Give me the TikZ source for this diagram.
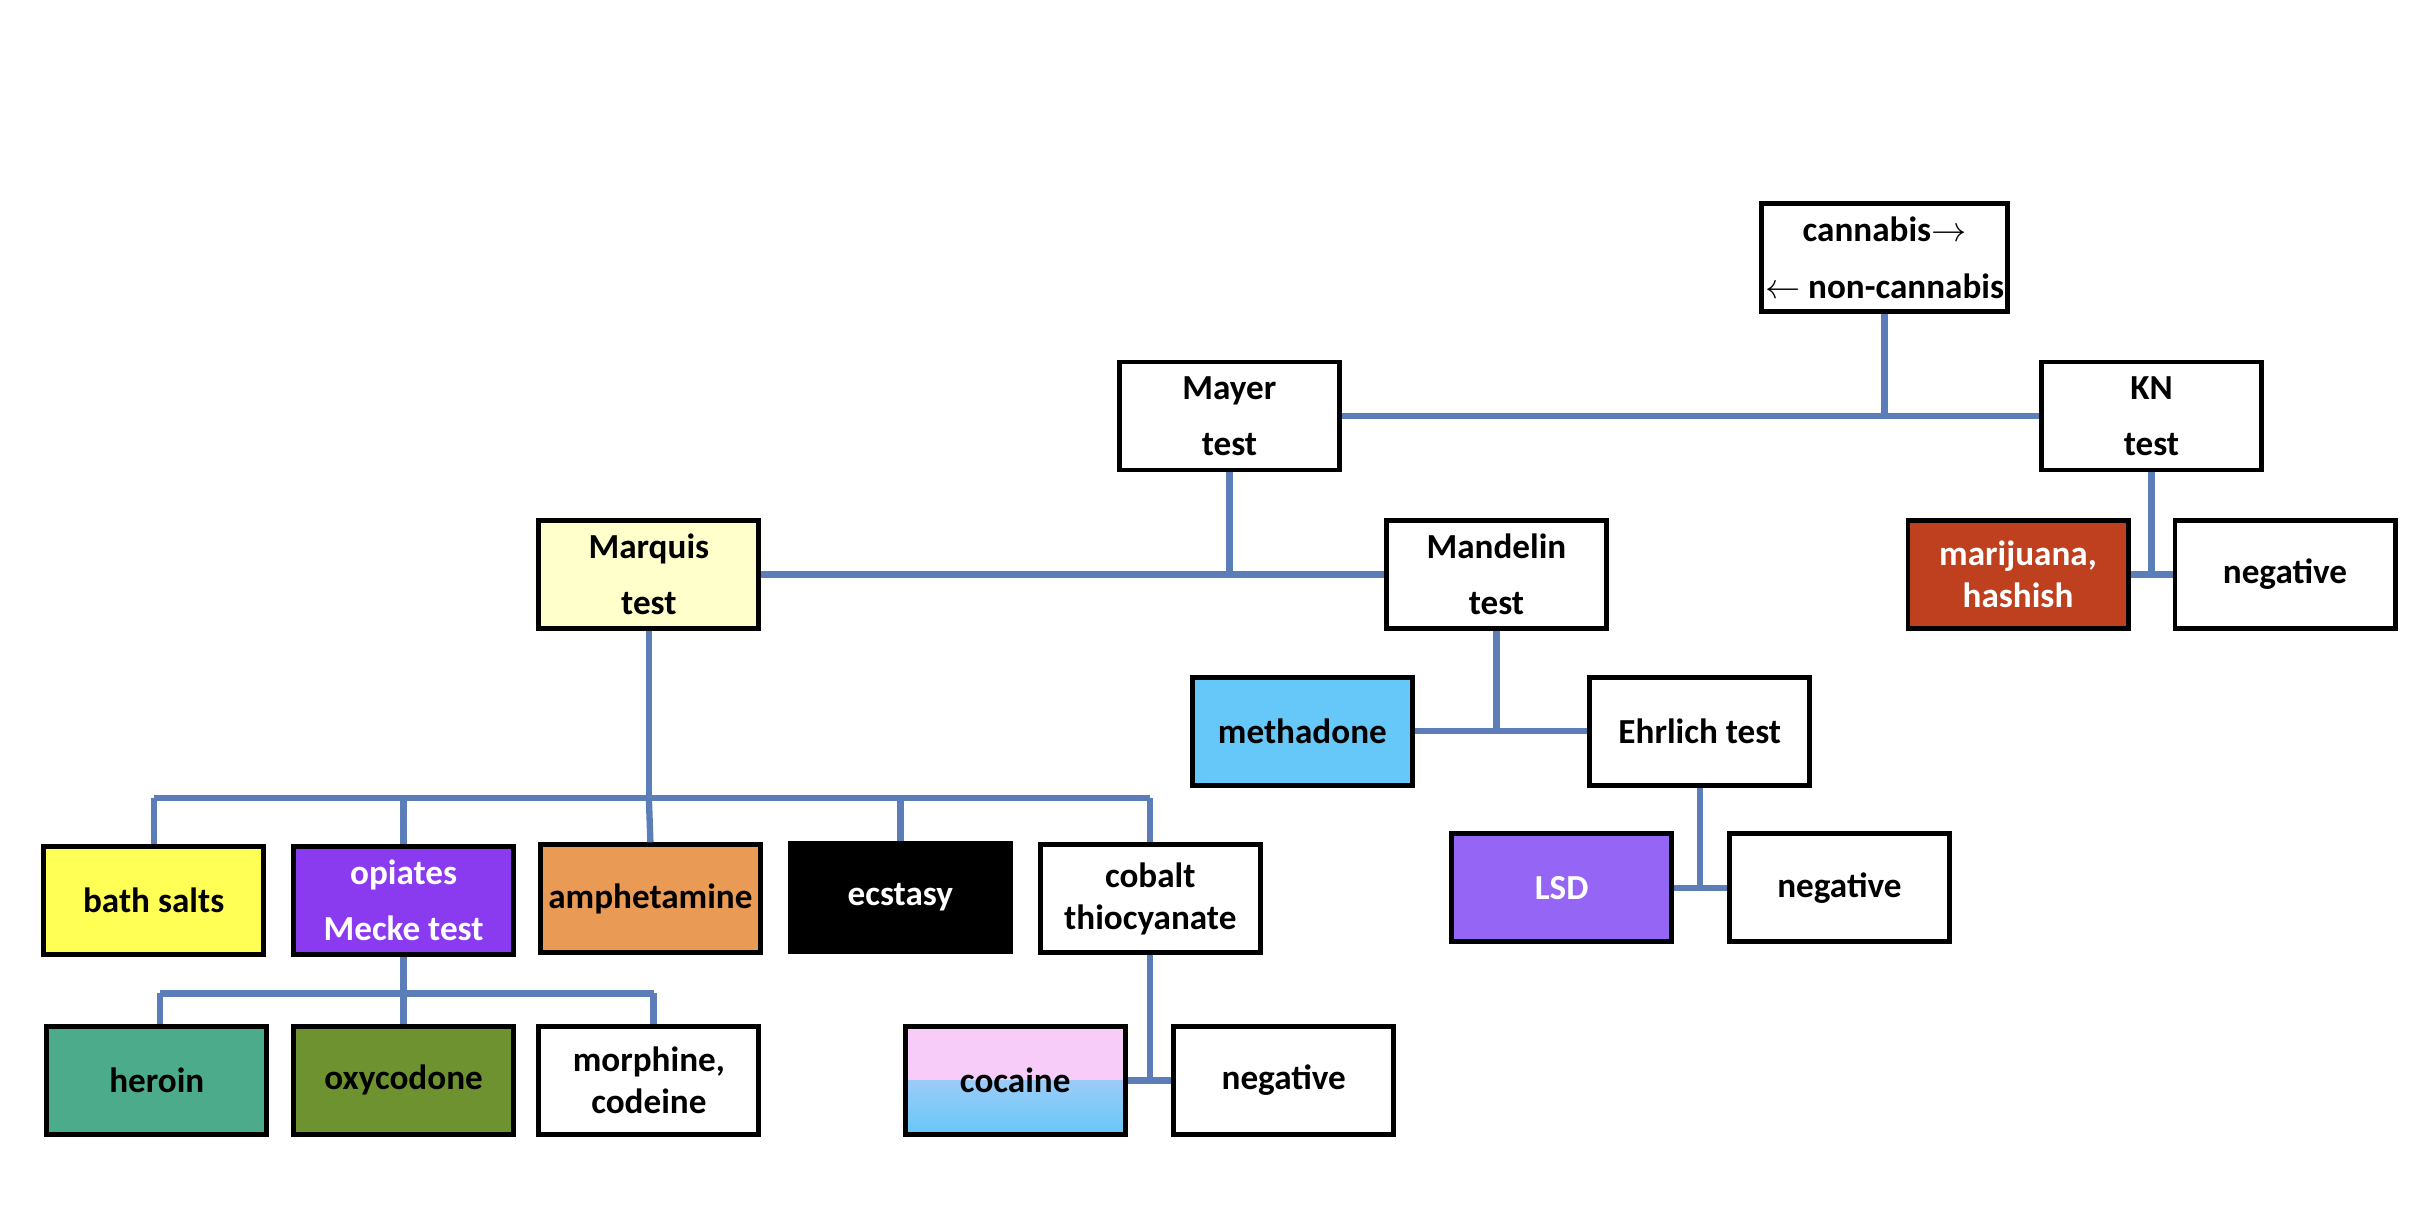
\documentclass[tikz,border=0pt]{standalone}
\usepackage{fontspec}
\setmainfont{Carlito}
\usetikzlibrary{positioning}
\definecolor{linkblue}{HTML}{5B7DB8}
\definecolor{marqyel}{HTML}{FFFFCC}
\definecolor{mjred}{HTML}{BE401E}
\definecolor{methblue}{HTML}{66C8F8}
\definecolor{lsdpurple}{HTML}{9566F5}
\definecolor{bathyel}{HTML}{FFFF55}
\definecolor{opipurple}{HTML}{8A3BF0}
\definecolor{amphorange}{HTML}{E99A55}
\definecolor{herogreen}{HTML}{4CAB8A}
\definecolor{oxygreen}{HTML}{6E9230}
\definecolor{cocpink}{HTML}{F8CCF8}
\definecolor{cocblue}{HTML}{9CCBF8}
\tikzset{
  box/.style={draw=black, line width=1.4pt, minimum width=2.2cm, minimum height=1.08cm,
    align=center, font=\bfseries\fontsize{10}{16}\selectfont, inner sep=1pt},
  link/.style={draw=linkblue, line width=1.8pt}
}
\begin{document}
\begin{tikzpicture}[x=0.015523cm, y=-0.015523cm]
\useasboundingbox (0,0) rectangle (1568,790);
\node[box] (cannabis) [] at (1214,166) {cannabis$\rightarrow$\\$\leftarrow$ non-cannabis};
\node[box] (mayer) [] at (792,268) {Mayer\\test};
\node[box] (kn) [] at (1386,268) {KN\\test};
\node[box, fill=marqyel] (marquis) [] at (418,370) {Marquis\\test};
\node[box] (mandelin) [] at (964,370) {Mandelin\\test};
\node[box, fill=mjred, text=white, font=\bfseries\fontsize{10}{12}\selectfont] (marijuana) [] at (1300,370) {marijuana,\\hashish};
\node[box] (neg_kn) [] at (1472,370) {negative};
\node[box, fill=methblue] (methadone) [] at (839,471) {methadone};
\node[box] (ehrlich) [] at (1095,471) {Ehrlich test};
\node[box, fill=lsdpurple, text=white] (lsd) [] at (1006,572) {LSD};
\node[box] (neg_ehrlich) [] at (1185,572) {negative};
\node[box, fill=bathyel] (bathsalts) [] at (99,580) {bath salts};
\node[box, fill=opipurple, text=white] (opiates) [] at (260,580) {opiates\\Mecke test};
\node[box, fill=amphorange] (amphetamine) [] at (419,579) {amphetamine};
\node[box, fill=black, text=white] (ecstasy) [] at (580,578) {ecstasy};
\node[box, font=\bfseries\fontsize{10}{12}\selectfont] (cobalt) [] at (741,579) {cobalt\\thiocyanate};
\node[box, fill=herogreen] (heroin) [] at (101,696) {heroin};
\node[box, fill=oxygreen] (oxycodone) [] at (260,696) {oxycodone};
\node[box, font=\bfseries\fontsize{10}{12}\selectfont] (morphine) [] at (418,696) {morphine,\\codeine};
\node[box, path picture={
    \fill[cocpink] (path picture bounding box.north west) rectangle (path picture bounding box.east);
    \shade[top color=cocblue, bottom color=methblue] (path picture bounding box.west) rectangle (path picture bounding box.south east);
  }] (cocaine) [] at (654,696) {cocaine};
\node[box] (neg_cobalt) [] at (827,696) {negative};
% junctions
\coordinate (j_top) at (1214,268);
\coordinate (j_mayer) at (792,370);
\coordinate (j_kn) at (1386,370);
\coordinate (j_mandelin) at (964,471);
\coordinate (j_ehrlich) at (1095,572);
\coordinate (j_cobalt) at (741,696);
\coordinate (j_marquis) at (418,514);
\coordinate (b_l) at (99,514);
\coordinate (b_r) at (741,514);
\coordinate (j_opiates) at (260,640);
\coordinate (o_l) at (103,640);
\coordinate (o_r) at (421,640);
\draw[link] (cannabis.south) -- (j_top);
\draw[link] (mayer.east) -- (kn.west);
\draw[link] (mayer.south) -- (j_mayer);
\draw[link] (marquis.east) -- (mandelin.west);
\draw[link] (kn.south) -- (j_kn);
\draw[link] (marijuana.east) -- (neg_kn.west);
\draw[link] (mandelin.south) -- (j_mandelin);
\draw[link] (methadone.east) -- (ehrlich.west);
\draw[link] (ehrlich.south) -- (j_ehrlich);
\draw[link] (lsd.east) -- (neg_ehrlich.west);
\draw[link] (marquis.south) -- (j_marquis);
\draw[link] (b_l) -- (b_r);
\draw[link] (b_l) -- (bathsalts.north);
\draw[link] (opiates.north |- b_l) -- (opiates.north);
\draw[link] (j_marquis) -- (amphetamine.north);
\draw[link] (ecstasy.north |- b_l) -- (ecstasy.north);
\draw[link] (b_r) -- (cobalt.north);
\draw[link] (opiates.south) -- (j_opiates);
\draw[link] (o_l) -- (o_r);
\draw[link] (o_l) -- (heroin.north -| o_l);
\draw[link] (j_opiates) -- (oxycodone.north);
\draw[link] (o_r) -- (morphine.north -| o_r);
\draw[link] (cobalt.south) -- (j_cobalt);
\draw[link] (cocaine.east) -- (neg_cobalt.west);
\end{tikzpicture}
\end{document}
